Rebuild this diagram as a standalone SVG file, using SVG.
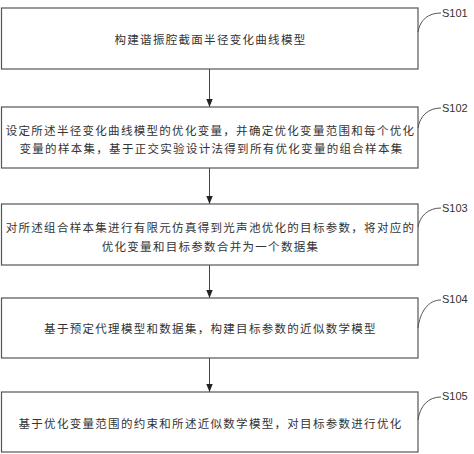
<svg xmlns="http://www.w3.org/2000/svg" width="474" height="454" viewBox="0 0 474 454">
<defs>
<style>
.box{fill:#fff;stroke:#555;stroke-width:1.2}
.t{font-family:"Noto Sans CJK SC","Liberation Sans",sans-serif;font-size:11.5px;letter-spacing:1.3px;fill:#333;text-anchor:middle;dominant-baseline:central}
.lab{font-family:"Liberation Sans",Arial,sans-serif;font-size:11px;fill:#333;dominant-baseline:central}
.cv{fill:none;stroke:#555;stroke-width:1}
.ar{stroke:#444;stroke-width:1;fill:none}
</style>
<marker id="ah" viewBox="0 0 8 8" refX="8" refY="4" markerWidth="8" markerHeight="8" markerUnits="userSpaceOnUse" orient="auto">
<path d="M0,0.8 L8,4 L0,7.2 Z" fill="#222"/>
</marker>
</defs>
<rect width="474" height="454" fill="#fff"/>
<g id="connectors">
<line class="ar" x1="209.5" y1="69" x2="209.5" y2="107" marker-end="url(#ah)"/>
<line class="ar" x1="209.5" y1="168" x2="209.5" y2="204" marker-end="url(#ah)"/>
<line class="ar" x1="209.5" y1="265" x2="209.5" y2="298" marker-end="url(#ah)"/>
<line class="ar" x1="209.5" y1="358" x2="209.5" y2="392" marker-end="url(#ah)"/>
</g>
<g id="S101">
<rect class="box" x="1.5" y="8" width="416.5" height="61"/>
<text class="t" x="210.5" y="39">构建谐振腔截面半径变化曲线模型</text>
<path class="cv" d="M418,32 C420,20 428,13 441,13"/>
<text class="lab" x="442" y="13">S101</text>
</g>
<g id="S102">
<rect class="box" x="1.5" y="107" width="416.5" height="61"/>
<text class="t" x="210.5" y="130">设定所述半径变化曲线模型的优化变量，并确定优化变量范围和每个优化</text>
<text class="t" x="211.5" y="148">变量的样本集，基于正交实验设计法得到所有优化变量的组合样本集</text>
<path class="cv" d="M418,128 C420,116 428,108 441,108"/>
<text class="lab" x="442" y="108">S102</text>
</g>
<g id="S103">
<rect class="box" x="1.5" y="204" width="416.5" height="61"/>
<text class="t" x="210.5" y="227">对所述组合样本集进行有限元仿真得到光声池优化的目标参数，将对应的</text>
<text class="t" x="210.5" y="246">优化变量和目标参数合并为一个数据集</text>
<path class="cv" d="M418,227 C420,216 428,208 441,208"/>
<text class="lab" x="442" y="208">S103</text>
</g>
<g id="S104">
<rect class="box" x="1.5" y="298" width="416.5" height="60"/>
<text class="t" x="210.5" y="328">基于预定代理模型和数据集，构建目标参数的近似数学模型</text>
<path class="cv" d="M418,328 C420,312 428,300 441,300"/>
<text class="lab" x="442" y="299">S104</text>
</g>
<g id="S105">
<rect class="box" x="1.5" y="392" width="416.5" height="60"/>
<text class="t" x="210.5" y="423">基于优化变量范围的约束和所述近似数学模型，对目标参数进行优化</text>
<path class="cv" d="M418,420 C420,406 428,397 441,397"/>
<text class="lab" x="442" y="396">S105</text>
</g>
</svg>
